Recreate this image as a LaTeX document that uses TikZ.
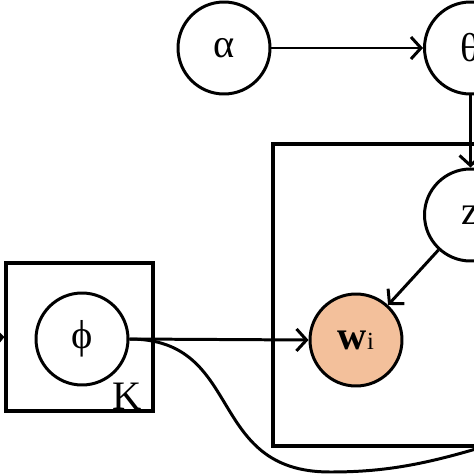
\documentclass[tikz,border=0pt]{standalone}
\usepackage{fontspec}
\setmainfont{Liberation Serif}
\usetikzlibrary{arrows.meta, calc, positioning}
\definecolor{obsPeach}{HTML}{F3C09B}
\tikzset{
  var/.style      = {circle, draw, line width=1.7pt, minimum size=1.84cm,
                     inner sep=0pt, font=\fontsize{23}{26}\selectfont},
  obsvar/.style   = {var, fill=obsPeach},
  plate/.style    = {draw, line width=1.8pt},
  edge/.style     = {-{Straight Barb[length=5.7pt, width=12.5pt, line width=1.7pt]},
                     line width=1.7pt},
  lbl/.style      = {font=\fontsize{23}{26}\selectfont, inner sep=0pt},
}
\begin{document}
\begin{tikzpicture}[x=0.02cm, y=-0.02cm]
  \clip (0,0) rectangle (474,474);
  % plates
  \node[plate, minimum width=2.94cm, minimum height=2.96cm] (plateK) at (79.5,337) {};
  \draw[plate] (273,144) rectangle (560,446);
  \node[lbl] (labK) at (127,396) {K};
  % variables
  \node[var] (alpha) at (224,48) {α};
  \node[var] (theta) at (470.5,48) {θ};
  \node[var] (z) at (470.5,215) {z};
  \node[var] (phi) at (82,339) {ϕ};
  \node[obsvar] (w) at (356,340) {\textbf{w}{\fontsize{14}{16}\selectfont i}};
  \coordinate (inL) at (-30,339);
  \coordinate (offR) at (570,418);
  % edges
  \draw[edge] (alpha) -- (theta);
  \draw[edge] (theta.south) -- (z.north);
  \draw[edge] (z) -- (w);
  \draw[edge] (phi.east) -- (w.west);
  \draw[edge] (inL) -- (plateK.west);
  \draw[line width=1.7pt] (phi.east) .. controls (245,339) and (205,472) .. (330,472)
    .. controls (400,472) and (450,460) .. (offR);
\end{tikzpicture}
\end{document}
